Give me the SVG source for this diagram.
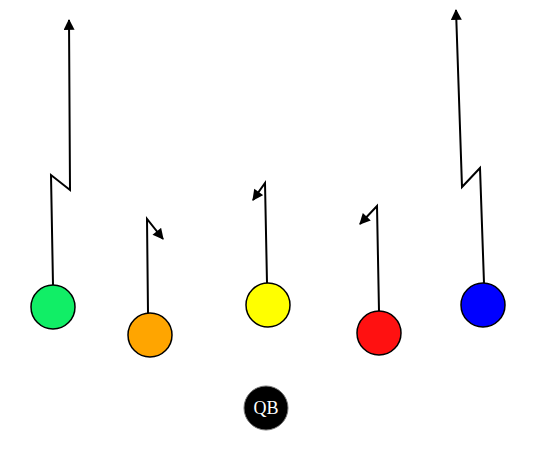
<svg xmlns="http://www.w3.org/2000/svg" width="540" height="472" viewBox="0 0 540 472">
<style>
.route{fill:none;stroke:#000;stroke-width:2;stroke-linejoin:miter}
.player{stroke:#000;stroke-width:1.5}
.qbt{font-family:"Liberation Serif","DejaVu Serif",serif;font-size:18px;fill:#fff;text-anchor:middle}
</style>
<defs>
<marker id="ah" viewBox="0 0 10 10" refX="9" refY="5" markerWidth="12" markerHeight="11" markerUnits="userSpaceOnUse" orient="auto">
<path d="M0,0 L10,5 L0,10 Z" fill="#000"/>
</marker>
</defs>
<rect width="540" height="472" fill="#fff"/>
<g id="connectors">
<polyline class="route" points="53,285 51,175 70,190 69,20" marker-end="url(#ah)"/>
<polyline class="route" points="148,313 147,219 163,239" marker-end="url(#ah)"/>
<polyline class="route" points="267,283 265,183 253,200" marker-end="url(#ah)"/>
<polyline class="route" points="379,311 377,206 360,224" marker-end="url(#ah)"/>
<polyline class="route" points="484,283 480,168 462,187 456,10" marker-end="url(#ah)"/>
</g>
<g id="green"><circle class="player" cx="53" cy="307" r="22" fill="#11ee66"/></g>
<g id="orange"><circle class="player" cx="150" cy="335" r="22" fill="#ffa500"/></g>
<g id="yellow"><circle class="player" cx="268" cy="305" r="22" fill="#ffff00"/></g>
<g id="red"><circle class="player" cx="379" cy="333" r="22" fill="#ff1111"/></g>
<g id="blue"><circle class="player" cx="483" cy="305" r="22" fill="#0000ff"/></g>
<g id="qb"><circle cx="266" cy="408" r="22" fill="#000" stroke="#777" stroke-width="1"/><text class="qbt" x="266" y="414">QB</text></g>
</svg>
